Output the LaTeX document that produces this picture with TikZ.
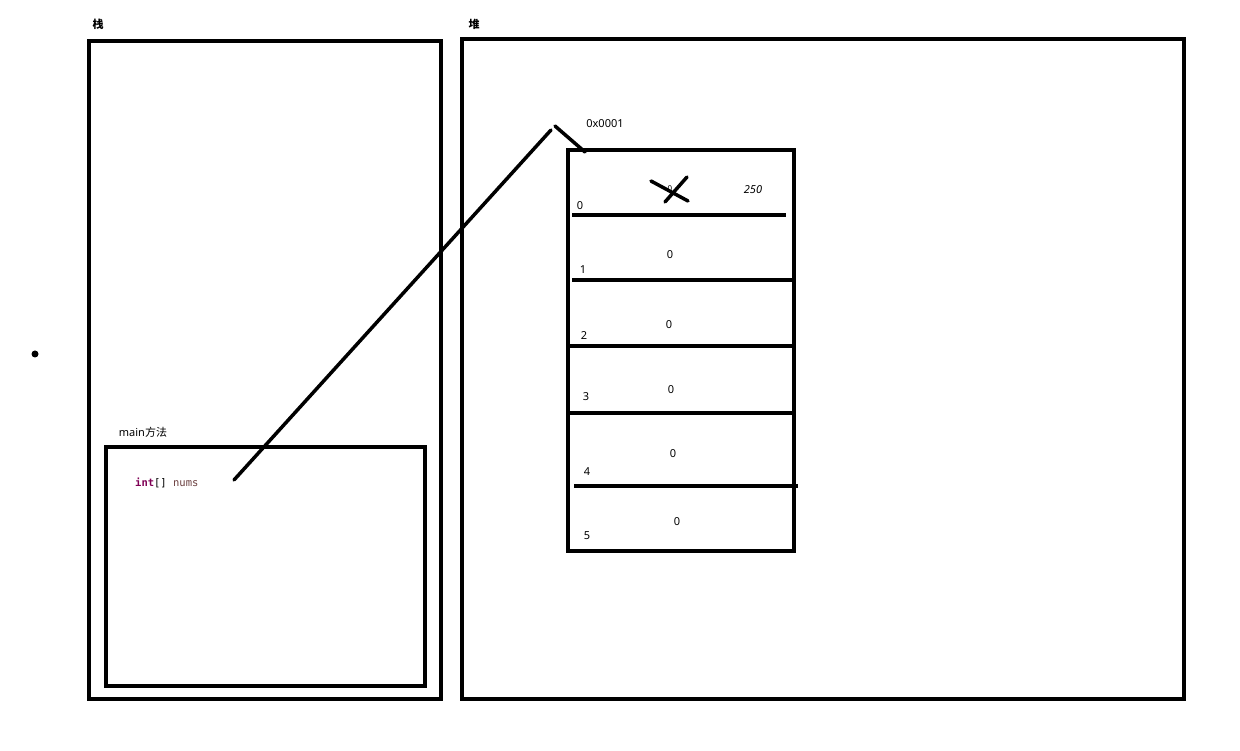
\documentclass[tikz,border=0pt]{standalone}
\usepackage{fontspec}
\setmainfont{Noto Sans}
\setmonofont{DejaVu Sans Mono}
\newfontfamily\cjk{Noto Sans CJK SC}
\definecolor{kw}{HTML}{7F0055}
\definecolor{var}{HTML}{6A3E3E}
\begin{document}
\begin{tikzpicture}[x=1pt,y=-1pt,
  box/.style={draw,line width=3.5pt},
  stroke/.style={line width=3.5pt},
  lbl/.style={font=\fontsize{11}{13}\selectfont,inner sep=0pt},
  val/.style={font=\fontsize{11}{13}\selectfont,inner sep=0pt}]
\useasboundingbox (0,0) rectangle (1240,751);
\fill (35,354) circle (3.5);
\draw[box] (89,41) rectangle (441,699);
\draw[box] (462,39) rectangle (1184,699);
\draw[box] (106,447) rectangle (425,686);
\node[lbl] (zhan) at (98,24) {\cjk\bfseries\itshape 栈};
\node[lbl] (dui) at (474,24) {\cjk\bfseries\itshape 堆};
\node[lbl] (mainlbl) at (143,432) {main\cjk 方法};
\node[font=\ttfamily\fontsize{10.5}{12}\selectfont,inner sep=0pt,anchor=west] (code) at (135,483)
  {\textcolor{kw}{\bfseries int}[] \textcolor{var}{nums}};
\coordinate (ref) at (234,480);
\coordinate (peak) at (551,130);
\coordinate (tip) at (585,152);
\draw[stroke,line cap=round] (ref) -- (peak);
\draw[stroke,line cap=round] (555,126) -- (tip);
\node[lbl] (addr) at (605,124) {0x0001};
\draw[box] (568,150) rectangle (794,551);
\draw[stroke] (572,215) -- (786,215);
\draw[stroke] (572,280) -- (792,280);
\draw[stroke] (570,346) -- (792,346);
\draw[stroke] (570,413) -- (792,413);
\draw[stroke] (574,486) -- (798,486);
\foreach \t/\x/\y in {0/580/206,1/583/270,2/584/336,3/586/397,4/587/472,5/587/536}
  \node[lbl] at (\x,\y) {\t};
\foreach \x/\y in {670/255,669/325,671/390,673/454,677/522}
  \node[val] at (\x,\y) {0};
\node[val,font=\fontsize{8}{9}\selectfont] (old) at (670,189) {0};
\draw[stroke,line cap=round] (651,181) -- (688,201);
\draw[stroke,line cap=round] (665,202) -- (687,177);
\node[lbl,font=\bfseries\itshape\fontsize{11}{13}\selectfont] (new) at (753,190) {250};
\end{tikzpicture}
\end{document}
